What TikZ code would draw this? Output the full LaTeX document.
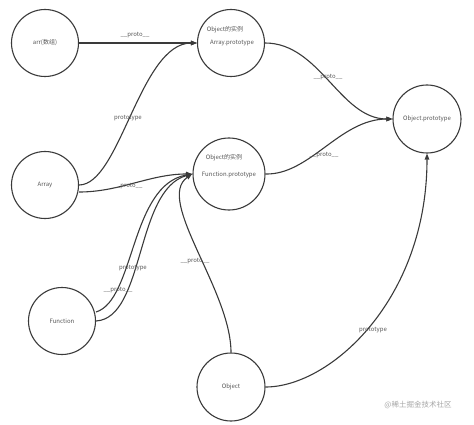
\documentclass[tikz,border=0pt]{standalone}
\usepackage{fontspec}
\setmainfont{Noto Sans CJK SC}
\usetikzlibrary{arrows.meta}
\definecolor{linec}{HTML}{3A3A3A}
\definecolor{textc}{HTML}{555555}
\begin{document}
\begin{tikzpicture}[x=1pt,y=-1pt,
  obj/.style={circle,draw=linec,line width=1.1pt,minimum size=67pt,inner sep=0pt},
  lbl/.style={text=textc,font=\fontsize{6}{7}\selectfont,inner sep=0pt},
  conn/.style={draw=linec,line width=1.1pt},
  arr/.style={conn,-{Triangle[length=6pt,width=4.5pt]}}]
\useasboundingbox (0,0) rectangle (474,425);
\node[obj] (arr) at (45,43) {};
\node[lbl] at (45,43) {arr(数组)};
\node[obj] (ap) at (231,43) {};
\node[lbl] at (225,30) {Object的实例};
\node[lbl] at (232,43) {Array.prototype};
\node[obj,minimum size=72pt] (fp) at (229,174) {};
\node[lbl] at (224,158) {Object的实例};
\node[lbl] at (229,175) {Function.prototype};
\node[obj,minimum size=68pt] (op) at (427,119) {};
\node[lbl] at (427,119) {Object.prototype};
\node[obj] (a) at (45,185) {};
\node[lbl] at (45,185) {Array};
\node[obj] (f) at (62,321) {};
\node[lbl] at (62,321) {Function};
\node[obj,minimum size=68pt] (o) at (231,387) {};
\node[lbl] at (231,387) {Object};

\coordinate (apin) at (ap.west);
\coordinate (fpin) at (192,174);
\coordinate (opin) at (op.west);

\draw[arr] (arr.east) -- (apin);
\node[lbl] at (135,35) {\_\_proto\_\_};

\draw[arr] (a.east) .. controls (120,185) and (140,43) .. (apin);
\node[lbl] at (128,118) {prototype};

\draw[arr] ([yshift=-7pt]a.east) .. controls (120,192) and (150,174) .. (fpin);
\node[lbl] at (128,186) {\_\_proto\_\_};

\draw[arr] (ap.east) .. controls (320,43) and (340,119) .. (opin);
\node[lbl] at (328,77) {\_\_proto\_\_};

\draw[arr] (fp.east) .. controls (310,175) and (340,119) .. (opin);
\node[lbl] at (324,155) {\_\_proto\_\_};

\draw[arr] ([yshift=9pt]f.east) .. controls (135,300) and (130,185) .. (fpin);
\draw[arr] (f.east) .. controls (145,318) and (135,190) .. (fpin);
\node[lbl] at (133,268) {prototype};
\node[lbl] at (118,290) {\_\_proto\_\_};

\draw[arr] (o.north) .. controls (231,290) and (155,200) .. (fpin);
\node[lbl] at (195,261) {\_\_proto\_\_};

\draw[arr] (o.east) .. controls (330,387) and (427,300) .. (op.south);
\node[lbl] at (373,330) {prototype};

\node[text=gray!70,font=\fontsize{7.5}{9}\selectfont,inner sep=0pt] (wm) at (418,405) {@稀土掘金技术社区};
\end{tikzpicture}
\end{document}
